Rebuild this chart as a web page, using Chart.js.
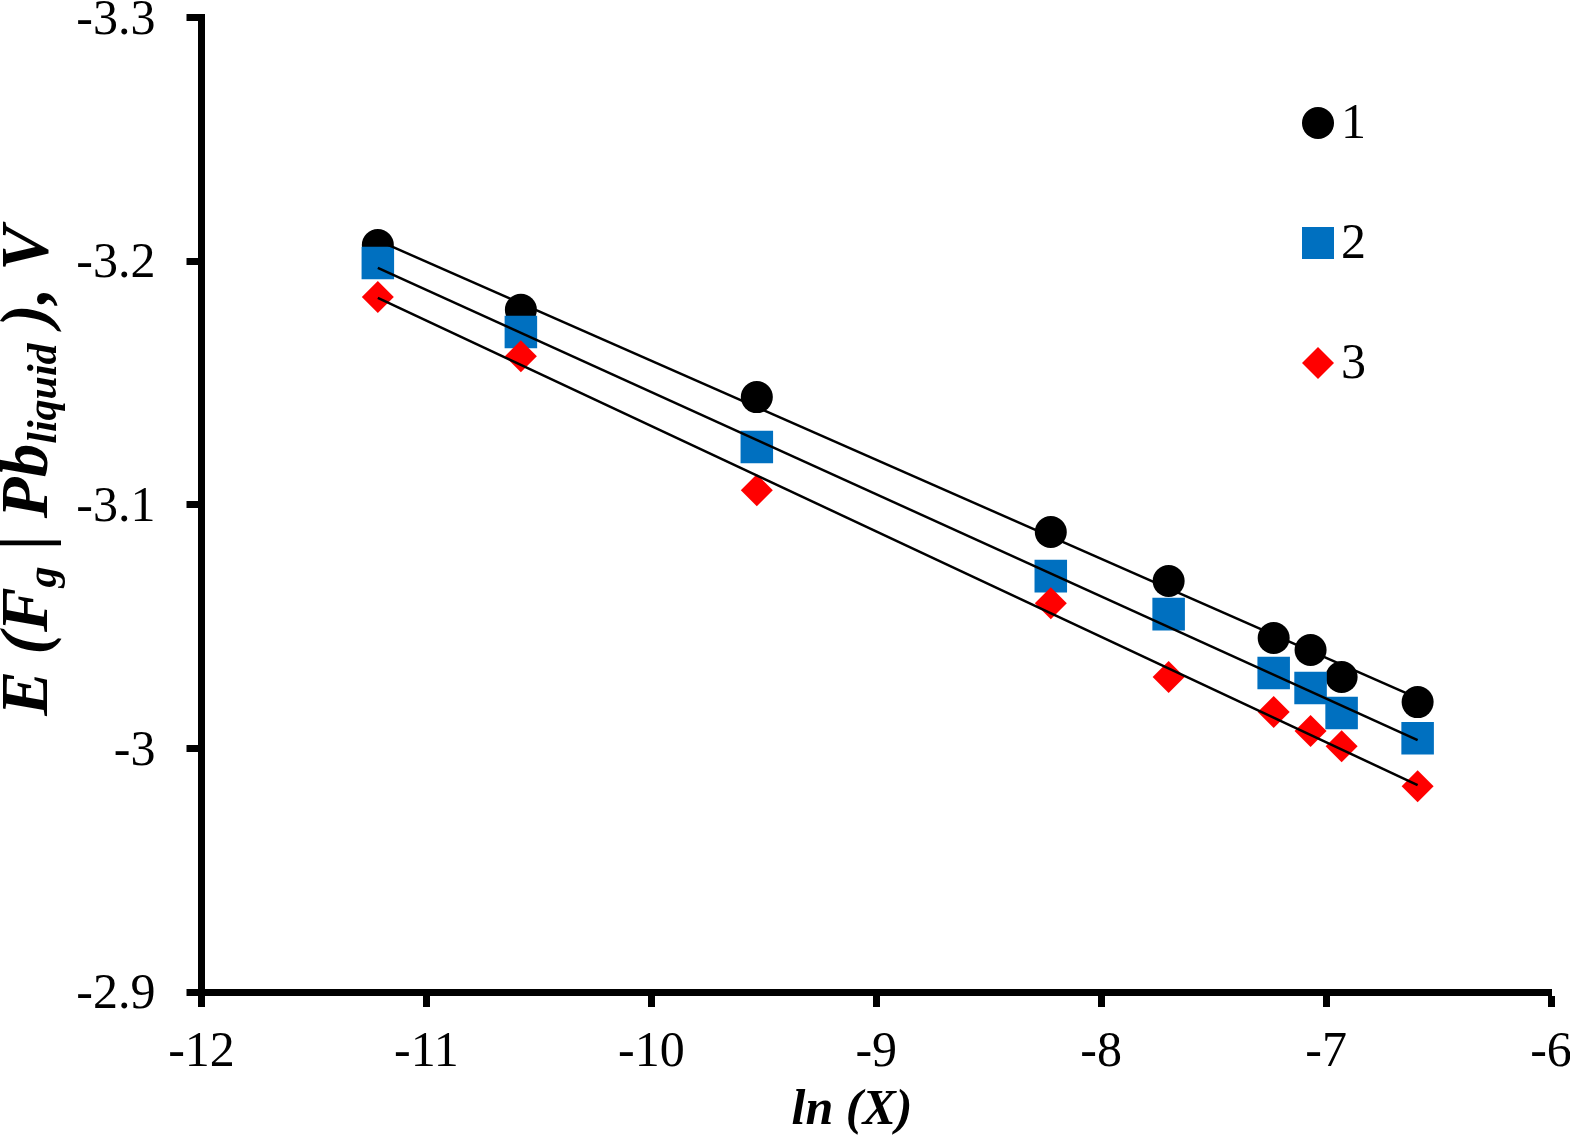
<!DOCTYPE html>
<html>
<head>
<meta charset="utf-8">
<script src="https://cdn.jsdelivr.net/npm/chart.js@4.4.0/dist/chart.umd.min.js"></script>
<style>
html, body { margin: 0; padding: 0; background: #fff; }
</style>
</head>
<body>
<canvas id="chart" width="1570" height="1143"></canvas>
<script>
// Dados

const lnX = [-11.216, -10.58, -9.531, -8.224, -7.70, -7.233, -7.069, -6.931, -6.593];
const e1 = [-3.2066, -3.180, -3.1442, -3.0888, -3.0687, -3.0453, -3.0404, -3.0293, -3.019];
const e2 = [-3.1992, -3.1709, -3.1237, -3.0707, -3.0551, -3.0309, -3.0248, -3.0145, -3.0042];
const e3 = [-3.1853, -3.161, -3.106, -3.0596, -3.0293, -3.0149, -3.0071, -3.0009, -2.9845];

// linhas de tendencia (extremos)
const fitX = [-11.216, -6.593];
const fit1 = [-3.2085, -3.0206];
const fit2 = [-3.1972, -3.0034];
const fit3 = [-3.1849, -2.9849];

const xTicks = [-12, -11, -10, -9, -8, -7, -6];
const yTicks = [-3.3, -3.2, -3.1, -3.0, -2.9];
const seriesNames = ['1', '2', '3'];
const seriesColors = ['#000000', '#0070C0', '#FF0000'];

const pts = (xs, ys) => xs.map((x, i) => ({ x: x, y: ys[i] }));

const fitLine = (ys) => ({
    type: 'line',
    data: pts(fitX, ys),
    borderColor: '#000',
    borderWidth: 2.5,
    pointRadius: 0,
    showLine: true,
    fill: false,
    order: 0
});

// legenda e titulos desenhados a mao
const extras = {
    id: 'extras',
    afterDraw(chart) {
        const c = chart.ctx;
        c.save();

        // legenda
        const lx = 1318, ly = [123, 243, 363];
        c.fillStyle = seriesColors[0];
        c.beginPath(); c.arc(lx, ly[0], 16, 0, Math.PI * 2); c.fill();
        c.fillStyle = seriesColors[1];
        c.fillRect(lx - 16, ly[1] - 16, 32, 32);
        c.fillStyle = seriesColors[2];
        c.beginPath();
        c.moveTo(lx - 16, ly[2]); c.lineTo(lx, ly[2] - 16);
        c.lineTo(lx + 16, ly[2]); c.lineTo(lx, ly[2] + 16);
        c.closePath(); c.fill();
        c.fillStyle = '#000';
        c.font = '50px "Liberation Serif"';
        c.textBaseline = 'middle';
        c.textAlign = 'left';
        seriesNames.forEach((n, i) => c.fillText(n, lx + 23, ly[i] + 2));

        // titulo eixo x
        c.font = 'italic bold 50px "Liberation Serif"';
        c.textAlign = 'center';
        c.textBaseline = 'alphabetic';
        c.fillText('ln (X)', 852, 1124);

        // titulo eixo y com subscritos
        const big = 'italic bold 67px "Liberation Serif"';
        const small = 'italic bold 42px "Liberation Serif"';
        const parts = [
            ['E (F', big, 0],
            ['g', small, 9],
            [' | Pb', big, 0],
            ['liquid', small, 9],
            [' ), V', big, 0]
        ];
        let total = 0;
        parts.forEach(p => { c.font = p[1]; total += c.measureText(p[0]).width; });
        c.translate(47, 471);
        c.rotate(-Math.PI / 2);
        c.textAlign = 'left';
        let pos = -total / 2;
        parts.forEach(p => {
            c.font = p[1];
            c.fillText(p[0], pos, p[2]);
            pos += c.measureText(p[0]).width;
        });
        c.restore();
    }
};

// Configurações

const tickFont = { family: 'Liberation Serif', size: 50 };

const noPad = s => { s.paddingTop = 0; s.paddingBottom = 0; s.paddingLeft = 0; s.paddingRight = 0; };

const config = {
    type: 'scatter',
    data: {
        datasets: [
            fitLine(fit1),
            fitLine(fit2),
            fitLine(fit3),
            {
                label: seriesNames[2],
                data: pts(lnX, e3),
                pointStyle: 'rectRot',
                pointRadius: 16,
                backgroundColor: seriesColors[2],
                borderWidth: 0,
                order: 1
            },
            {
                label: seriesNames[1],
                data: pts(lnX, e2),
                pointStyle: 'rect',
                pointRadius: 23,
                backgroundColor: seriesColors[1],
                borderWidth: 0,
                order: 2
            },
            {
                label: seriesNames[0],
                data: pts(lnX, e1),
                pointStyle: 'circle',
                pointRadius: 16,
                backgroundColor: seriesColors[0],
                borderWidth: 0,
                order: 3
            }
        ]
    },
    options: {
        responsive: false,
        animation: false,
        events: [],
        devicePixelRatio: 1,
        layout: { autoPadding: false, padding: { top: 17.5, right: 19, left: 0, bottom: 0 } },
        plugins: { legend: { display: false }, tooltip: { enabled: false } },
        scales: {
            x: {
                type: 'linear',
                min: -12,
                max: -6,
                afterBuildTicks: s => { s.ticks = xTicks.map(v => ({ value: v })); },
                afterFit: s => { s.height = 151; noPad(s); },
                border: { display: true, color: '#000', width: 7 },
                grid: { display: true, drawOnChartArea: false, drawTicks: true, tickLength: 15, tickWidth: 7, tickColor: '#000' },
                ticks: { color: '#000', font: tickFont, padding: 16, maxRotation: 0, autoSkip: false }
            },
            y: {
                type: 'linear',
                reverse: true,
                min: -3.3,
                max: -2.9,
                afterBuildTicks: s => { s.ticks = yTicks.map(v => ({ value: v })); },
                afterFit: s => { s.width = 201.5; noPad(s); },
                border: { display: true, color: '#000', width: 7 },
                grid: { display: true, drawOnChartArea: false, drawTicks: true, tickLength: 15, tickWidth: 7, tickColor: '#000' },
                ticks: { color: '#000', font: tickFont, padding: 31, labelOffset: 3, autoSkip: false,
                    callback: v => String(Number(v.toFixed(1))) }
            }
        }
    },
    plugins: [extras]
};

// Inicialização

const ctx = document.getElementById('chart').getContext('2d');
const myChart = new Chart(ctx, config);
</script>
</body>
</html>
